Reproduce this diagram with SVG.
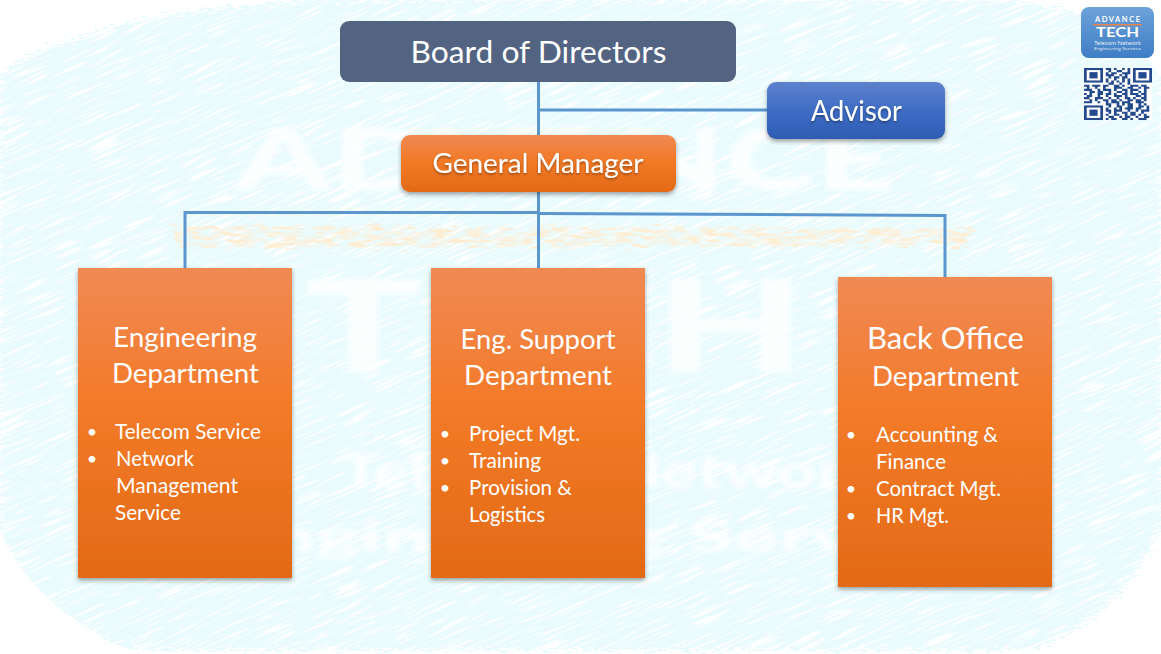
<svg xmlns="http://www.w3.org/2000/svg" width="1161" height="654" viewBox="0 0 1161 654">
<style>
text{font-family:"Lato","Carlito","Open Sans",sans-serif;fill:#fff}
.wm{font-weight:900;text-anchor:middle}
.h{text-anchor:middle}
.conn{fill:none;stroke:#5b96cf;stroke-width:3}
.li{font-size:22px}
.dot{font-size:18px;text-anchor:middle}
.ts{filter:url(#tshadow)}
</style>
<defs>
<linearGradient id="org" x1="0" y1="0" x2="0" y2="1"><stop offset="0" stop-color="#f08a52"/><stop offset=".12" stop-color="#f18549"/><stop offset=".45" stop-color="#f37a27"/><stop offset="1" stop-color="#e36a16"/></linearGradient>
<linearGradient id="blu" x1="0" y1="0" x2="0" y2="1"><stop offset="0" stop-color="#5e82cd"/><stop offset=".5" stop-color="#3e6cc4"/><stop offset="1" stop-color="#2f5cb3"/></linearGradient>
<linearGradient id="logo" x1="0" y1="0" x2="0" y2="1"><stop offset="0" stop-color="#6da3da"/><stop offset="1" stop-color="#3f7dc5"/></linearGradient>
<filter id="sh" x="-10%" y="-10%" width="120%" height="120%"><feDropShadow dx="0" dy="2.500" stdDeviation="2" flood-color="#333" flood-opacity=".45"/></filter>
<filter id="tshadow" x="-5%" y="-20%" width="110%" height="150%"><feDropShadow dx="0" dy="1.500" stdDeviation="1" flood-color="#000" flood-opacity=".4"/></filter>
<filter id="soft" x="-5%" y="-20%" width="110%" height="140%"><feGaussianBlur stdDeviation="2.500"/></filter>
<filter id="rough" x="-3%" y="-3%" width="106%" height="106%"><feTurbulence type="fractalNoise" baseFrequency=".12 .5" numOctaves="2" seed="5" result="n"/><feDisplacementMap in="SourceGraphic" in2="n" scale="22"/></filter>
<filter id="streak" x="0" y="0" width="100%" height="100%"><feTurbulence type="fractalNoise" baseFrequency=".025 .42" numOctaves="2" seed="8"/><feColorMatrix type="matrix" values="0 0 0 0 1 0 0 0 0 1 0 0 0 0 1 4 4 0 0 -4.100"/></filter>
<filter id="streakB" x="0" y="0" width="100%" height="100%"><feTurbulence type="fractalNoise" baseFrequency=".04 .5" numOctaves="2" seed="21"/><feColorMatrix type="matrix" values="0 0 0 0 .84 0 0 0 0 .95 0 0 0 0 .98 3 3 0 0 -3.500"/></filter>
<filter id="orangeS" x="-2%" y="-40%" width="104%" height="180%"><feTurbulence type="fractalNoise" baseFrequency=".06 .3" numOctaves="2" seed="3" result="n"/><feDisplacementMap in="SourceGraphic" in2="n" scale="14" result="d"/><feColorMatrix in="n" type="matrix" values="0 0 0 0 0 0 0 0 0 0 0 0 0 0 0 3 0 0 0 -1.100" result="m"/><feComposite in="d" in2="m" operator="in"/></filter>
<clipPath id="blobClip"><path d="M0,75Q90,12 320,0L1000,0Q1130,10 1161,80L1161,525Q1120,620 1030,650L130,650Q35,610 0,530Z"/></clipPath>
</defs>
<rect width="1161" height="654" fill="#fff"/>
<g id="background">
<path filter="url(#rough)" fill="#e9fbfd" d="M0,75Q90,12 320,0L1000,0Q1130,10 1161,80L1161,525Q1120,620 1030,650L130,650Q35,610 0,530Z"/>
<g clip-path="url(#blobClip)">
<g transform="rotate(-24 580 327)"><rect x="-200" y="-300" width="1560" height="1260" filter="url(#streak)"/><rect x="-200" y="-300" width="1560" height="1260" filter="url(#streakB)"/></g>
<path filter="url(#orangeS)" fill="#ffedd2" d="M170,226L975,228L968,246L180,248Z"/>
<g filter="url(#soft)" opacity=".8">
<text class="wm" x="565" y="190" font-size="86" textLength="660" lengthAdjust="spacingAndGlyphs">ADVANCE</text>
<text class="wm" x="555" y="372" font-size="128" textLength="500" lengthAdjust="spacingAndGlyphs">TECH</text>
<text class="wm" x="610" y="488" font-size="48" textLength="540" lengthAdjust="spacingAndGlyphs">Telecom Network</text>
<text class="wm" x="610" y="552" font-size="44" textLength="780" lengthAdjust="spacingAndGlyphs">Engineering Services</text>
</g>
</g>
</g>
<g id="connectors">
<path class="conn" d="M538.500,82V268"/>
<path class="conn" d="M538.500,110H767"/>
<path class="conn" d="M185,268V212.500L538.500,212.500"/>
<path class="conn" d="M538.500,213.500L945,215.500V277"/>
</g>
<g id="board"><rect x="340" y="21" width="396" height="61" rx="9" fill="#526482"/><text class="h" x="538.500" y="63" font-size="31" textLength="256" lengthAdjust="spacingAndGlyphs">Board of Directors</text></g>
<g id="advisor"><rect x="767" y="82" width="178" height="57" rx="9" fill="url(#blu)" filter="url(#sh)"/><text class="h ts" x="856.500" y="121" font-size="28" textLength="91" lengthAdjust="spacingAndGlyphs">Advisor</text></g>
<g id="general-manager"><rect x="401" y="135" width="275" height="57" rx="9" fill="url(#org)" filter="url(#sh)"/><text class="h ts" x="538" y="173" font-size="27" textLength="211" lengthAdjust="spacingAndGlyphs">General Manager</text></g>
<g id="engineering"><rect x="78" y="268" width="214" height="310" fill="url(#org)" filter="url(#sh)"/>
<text class="h" x="185" y="347" font-size="27" textLength="144" lengthAdjust="spacingAndGlyphs">Engineering</text>
<text class="h" x="185.500" y="383" font-size="27" textLength="147" lengthAdjust="spacingAndGlyphs">Department</text>
<text class="dot" x="92" y="438">•</text><text class="li" x="115" y="439" textLength="146" lengthAdjust="spacingAndGlyphs">Telecom Service</text>
<text class="dot" x="92" y="465">•</text><text class="li" x="116" y="466" textLength="78" lengthAdjust="spacingAndGlyphs">Network</text>
<text class="li" x="116" y="493" textLength="122" lengthAdjust="spacingAndGlyphs">Management</text>
<text class="li" x="115" y="520" textLength="66" lengthAdjust="spacingAndGlyphs">Service</text></g>
<g id="eng-support"><rect x="431" y="268" width="214" height="310" fill="url(#org)" filter="url(#sh)"/>
<text class="h" x="538" y="349" font-size="27" textLength="155" lengthAdjust="spacingAndGlyphs">Eng. Support</text>
<text class="h" x="538" y="385" font-size="27" textLength="148" lengthAdjust="spacingAndGlyphs">Department</text>
<text class="dot" x="445" y="440">•</text><text class="li" x="469" y="441" textLength="111" lengthAdjust="spacingAndGlyphs">Project Mgt.</text>
<text class="dot" x="445" y="467">•</text><text class="li" x="469" y="468" textLength="72" lengthAdjust="spacingAndGlyphs">Training</text>
<text class="dot" x="445" y="494">•</text><text class="li" x="469" y="495" textLength="103" lengthAdjust="spacingAndGlyphs">Provision &amp;</text>
<text class="li" x="469" y="522" textLength="76" lengthAdjust="spacingAndGlyphs">Logistics</text></g>
<g id="back-office"><rect x="838" y="277" width="214" height="310" fill="url(#org)" filter="url(#sh)"/>
<text class="h" x="945.500" y="349" font-size="31" textLength="157" lengthAdjust="spacingAndGlyphs">Back Office</text>
<text class="h" x="945.500" y="386" font-size="27" textLength="147" lengthAdjust="spacingAndGlyphs">Department</text>
<text class="dot" x="851" y="441">•</text><text class="li" x="876" y="442" textLength="122" lengthAdjust="spacingAndGlyphs">Accounting &amp;</text>
<text class="li" x="876" y="469" textLength="70" lengthAdjust="spacingAndGlyphs">Finance</text>
<text class="dot" x="851" y="495">•</text><text class="li" x="876" y="496" textLength="125" lengthAdjust="spacingAndGlyphs">Contract Mgt.</text>
<text class="dot" x="851" y="522">•</text><text class="li" x="876" y="523" textLength="73" lengthAdjust="spacingAndGlyphs">HR Mgt.</text></g>
<g id="logo-badge"><rect x="1081" y="7" width="73" height="51" rx="8" fill="url(#logo)"/>
<text class="h" x="1117.500" y="21.500" font-size="7.500" font-weight="700" textLength="45">ADVANCE</text>
<rect x="1093" y="24" width="49" height="1.500" fill="#e8844a"/>
<text class="h" x="1117.500" y="37" font-size="14" font-weight="700" textLength="43" lengthAdjust="spacingAndGlyphs">TECH</text>
<text class="h" x="1117.500" y="45" font-size="5.500" textLength="47" lengthAdjust="spacingAndGlyphs" fill-opacity=".85">Telecom Network</text>
<text class="h" x="1117.500" y="50" font-size="4.500" textLength="47" lengthAdjust="spacingAndGlyphs" fill-opacity=".85">Engineering Services</text></g>
<g id="qr" transform="translate(1084 68) scale(2.720 2.080)">
<rect width="25" height="25" fill="#fff"/>
<g fill="none" stroke="#234a8c" stroke-width="1">
<rect x=".5" y=".5" width="6" height="6"/><rect x="18.500" y=".5" width="6" height="6"/><rect x=".5" y="18.500" width="6" height="6"/>
<path d="M8,.5h2m1,0h1m2,0h1m1,0h1M9,1.500h1m2,0h2m2,0h1M8,2.500h1m1,0h2m2,0h3M8,3.500h3m2,0h1m1,0h1M9,4.500h1m1,0h2m1,0h2M8,5.500h1m2,0h1m2,0h1m1,0h1M8,6.500h1m1,0h1m1,0h1m1,0h1m1,0h1M9,7.500h2m2,0h1m2,0h1M0,8.500h2m1,0h3m1,0h2m2,0h2m1,0h1m2,0h3m1,0h2M1,9.500h1m2,0h1m2,0h1m3,0h3m2,0h2m2,0h1m1,0h2M0,10.500h3m2,0h1m1,0h3m1,0h1m2,0h2m1,0h3m2,0h1M2,11.500h2m1,0h2m2,0h1m2,0h2m1,0h1m1,0h1m2,0h1m1,0h1M0,12.500h1m1,0h1m2,0h2m1,0h2m1,0h1m2,0h2m1,0h3m1,0h2M1,13.500h2m2,0h1m2,0h1m2,0h3m1,0h1m3,0h2m1,0h1M0,14.500h2m2,0h3m2,0h1m2,0h1m2,0h2m1,0h1m2,0h2M2,15.500h1m1,0h1m2,0h2m1,0h2m1,0h1m2,0h2m1,0h2m1,0h1M0,16.500h3m2,0h1m2,0h1m1,0h3m1,0h3m2,0h3M8,17.500h2m2,0h1m1,0h1m1,0h2m2,0h1m1,0h1M9,18.500h1m2,0h2m2,0h2m2,0h2m1,0h1M8,19.500h1m2,0h1m1,0h1m1,0h3m1,0h2m2,0h1M8,20.500h2m1,0h3m2,0h1m2,0h1m1,0h3M9,21.500h1m1,0h1m2,0h2m1,0h2m2,0h1M8,22.500h1m2,0h2m2,0h1m1,0h2m1,0h1m1,0h1M9,23.500h2m2,0h1m1,0h2m2,0h1m2,0h2M8,24.500h1m1,0h2m2,0h2m1,0h1m2,0h3"/>
</g>
<g fill="#234a8c"><rect x="2" y="2" width="3" height="3"/><rect x="20" y="2" width="3" height="3"/><rect x="2" y="20" width="3" height="3"/></g>
</g>
</svg>
